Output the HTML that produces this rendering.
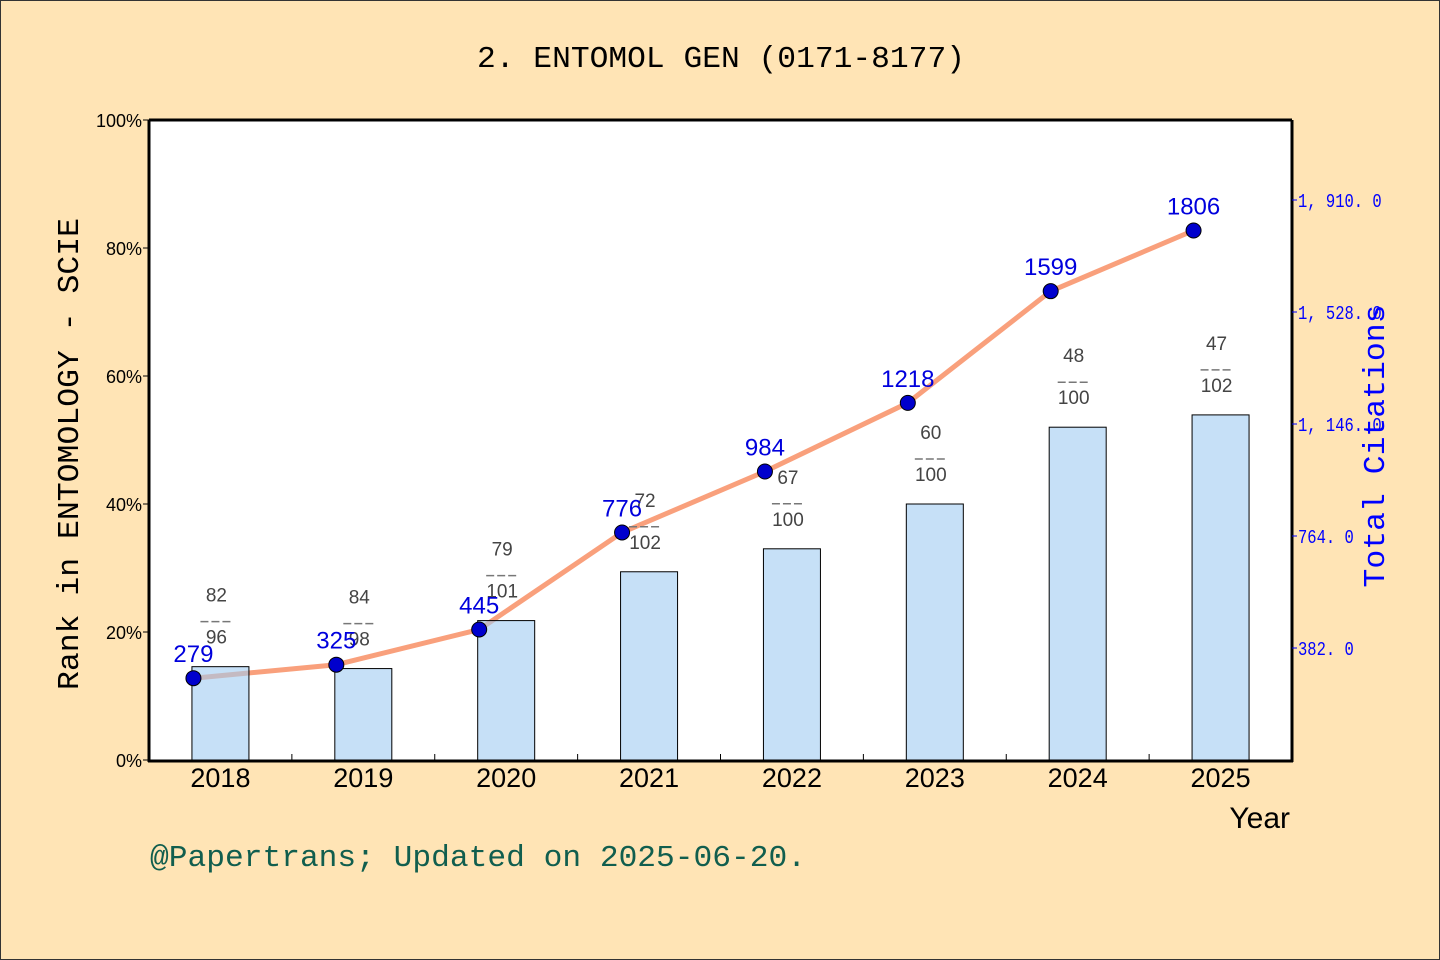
<!DOCTYPE html>
<html><head><meta charset="utf-8"><style>
html,body{margin:0;padding:0;background:#ffe4b5;}
svg{display:block;}
.mono{font-family:"WenQuanYi Zen Hei Mono","WenQuanYi Zen Hei","Liberation Mono",monospace;}
.sans{font-family:"Liberation Sans","DejaVu Sans",sans-serif;}
</style></head><body>
<svg id="chart" width="1440" height="960" viewBox="0 0 1440 960" xmlns="http://www.w3.org/2000/svg">
<rect x="0" y="0" width="1440" height="960" fill="#ffe4b5"/>
<rect x="0.5" y="0.5" width="1439" height="959" fill="none" stroke="#333" stroke-width="1"/>
<text class="mono" x="721" y="67" font-size="31" text-anchor="middle" textLength="488" lengthAdjust="spacingAndGlyphs" fill="#000">2. ENTOMOL GEN (0171-8177)</text>
<rect x="149" y="119" width="1143" height="642" fill="#fff"/>
<g id="lineg"></g>
<g id="bars"></g>
<g id="axes"></g>
<g id="labels"></g>
<text class="mono" transform="translate(78,454) rotate(-90)" font-size="31" text-anchor="middle" textLength="472" lengthAdjust="spacingAndGlyphs" fill="#000">Rank in ENTOMOLOGY - SCIE</text>
<text class="mono" transform="translate(1384,446) rotate(-90)" font-size="31" text-anchor="middle" textLength="283" lengthAdjust="spacingAndGlyphs" fill="#0000ff">Total Citations</text>
<text class="sans" x="1290" y="828" font-size="30" text-anchor="end" fill="#000">Year</text>
<text class="mono" x="150" y="866" font-size="31" textLength="656" lengthAdjust="spacingAndGlyphs" fill="#115e4e">@Papertrans; Updated on 2025-06-20.</text>
</svg>
<script>
const years=["2018","2019","2020","2021","2022","2023","2024","2025"];
const ranks=[82,84,79,72,67,60,48,47];
const totals=[96,98,101,102,100,100,100,102];
const citations=[279,325,445,776,984,1218,1599,1806];
const leftTicks=[0,20,40,60,80,100];
const rightTicks=[382,764,1146,1528,1910];
const rightTickLabels=["382. 0","764. 0","1, 146. 0","1, 528. 0","1, 910. 0"];

const NS="http://www.w3.org/2000/svg";
const X0=149,X1=1292,Y0=760,Y1=120;
const step=(X1-X0)/years.length;
const xc=i=>X0+step*(i+0.5);
const yL=p=>Y0-(Y0-Y1)*p/100;
const yR=v=>Y0-v*112/382;
function mk(tag,attrs,parent){const e=document.createElementNS(NS,tag);for(const k in attrs)e.setAttribute(k,attrs[k]);parent.appendChild(e);return e;}
const axes=document.getElementById('axes'),bars=document.getElementById('bars'),lineg=document.getElementById('lineg'),labels=document.getElementById('labels');

let pts=citations.map((c,i)=>(xc(i)-27)+","+yR(c)).join(" ");
const pl=mk('polyline',{points:pts,fill:"none",stroke:"#f9a07c","stroke-width":5,"stroke-linejoin":"round"},lineg);



years.forEach((y,i)=>{
  const pct=(1-ranks[i]/totals[i])*100;
  const top=yL(pct);
  const r=mk('rect',{x:xc(i)-28.5,y:top,width:57,height:Y0-top,fill:"rgba(160,203,242,0.6)",stroke:"#000","stroke-width":1},bars);
  
  
  const cx=xc(i)-4;
  const t1=mk('text',{x:cx,y:top-65,"font-size":19,"text-anchor":"middle",fill:"#444",class:"sans"},labels);t1.textContent=ranks[i];
  
  
  const t2=mk('line',{x1:cx-16,x2:cx+16,y1:top-45,y2:top-45,stroke:"#777","stroke-width":1.5,"stroke-dasharray":"8 3"},labels);
  
  
  const t3=mk('text',{x:cx,y:top-23,"font-size":19,"text-anchor":"middle",fill:"#444",class:"sans"},labels);t3.textContent=totals[i];
  
  
  const xl=mk('text',{x:xc(i),y:787,"font-size":27,"text-anchor":"middle",fill:"#000",class:"sans"},axes);xl.textContent=y;
  
  
});
citations.forEach((c,i)=>{
  const px=xc(i)-27,py=yR(c);
  const ci=mk('circle',{cx:px,cy:py,r:7.5,fill:"#0000cd",stroke:"#000","stroke-width":1},labels);
  
  
  const t=mk('text',{x:px,y:py-16,"font-size":24,"text-anchor":"middle",fill:"#0000dd",class:"sans"},labels);t.textContent=c;
  
  
});
const ab=mk('path',{d:`M${X0-1} ${Y0+1}H${X1+1}M${X0} ${Y1}V${Y0+2}M${X1} ${Y1}V${Y0+2}M${X0} ${Y1}H${X1}`,fill:"none",stroke:"#000","stroke-width":3},axes);


for(let k=1;k<years.length;k++){
  const tx=X0+step*k;
  const tk=mk('line',{x1:tx,x2:tx,y1:Y0,y2:Y0-6,stroke:"#000","stroke-width":1},axes);
  
  
}
leftTicks.forEach(p=>{
  const y=yL(p);
  const tk=mk('line',{x1:X0-6,x2:X0,y1:y,y2:y,stroke:"#000","stroke-width":1},axes);
  
  
  const t=mk('text',{x:X0-7,y:y+7,"font-size":18,"text-anchor":"end",fill:"#000",class:"sans"},axes);t.textContent=p+"%";
  
  
});
rightTicks.forEach((v,i)=>{
  const y=yR(v);
  const tk=mk('line',{x1:X1,x2:X1+5,y1:y,y2:y,stroke:"#0000ff","stroke-width":1},axes);
  
  
  const lab=rightTickLabels[i];
  const t=mk('text',{x:X1+6,y:y+7,"font-size":19,fill:"#0000ff",class:"mono",textLength:lab.length*9.3,lengthAdjust:"spacingAndGlyphs"},axes);t.textContent=lab;
  
  
});
</script>
</body></html>
